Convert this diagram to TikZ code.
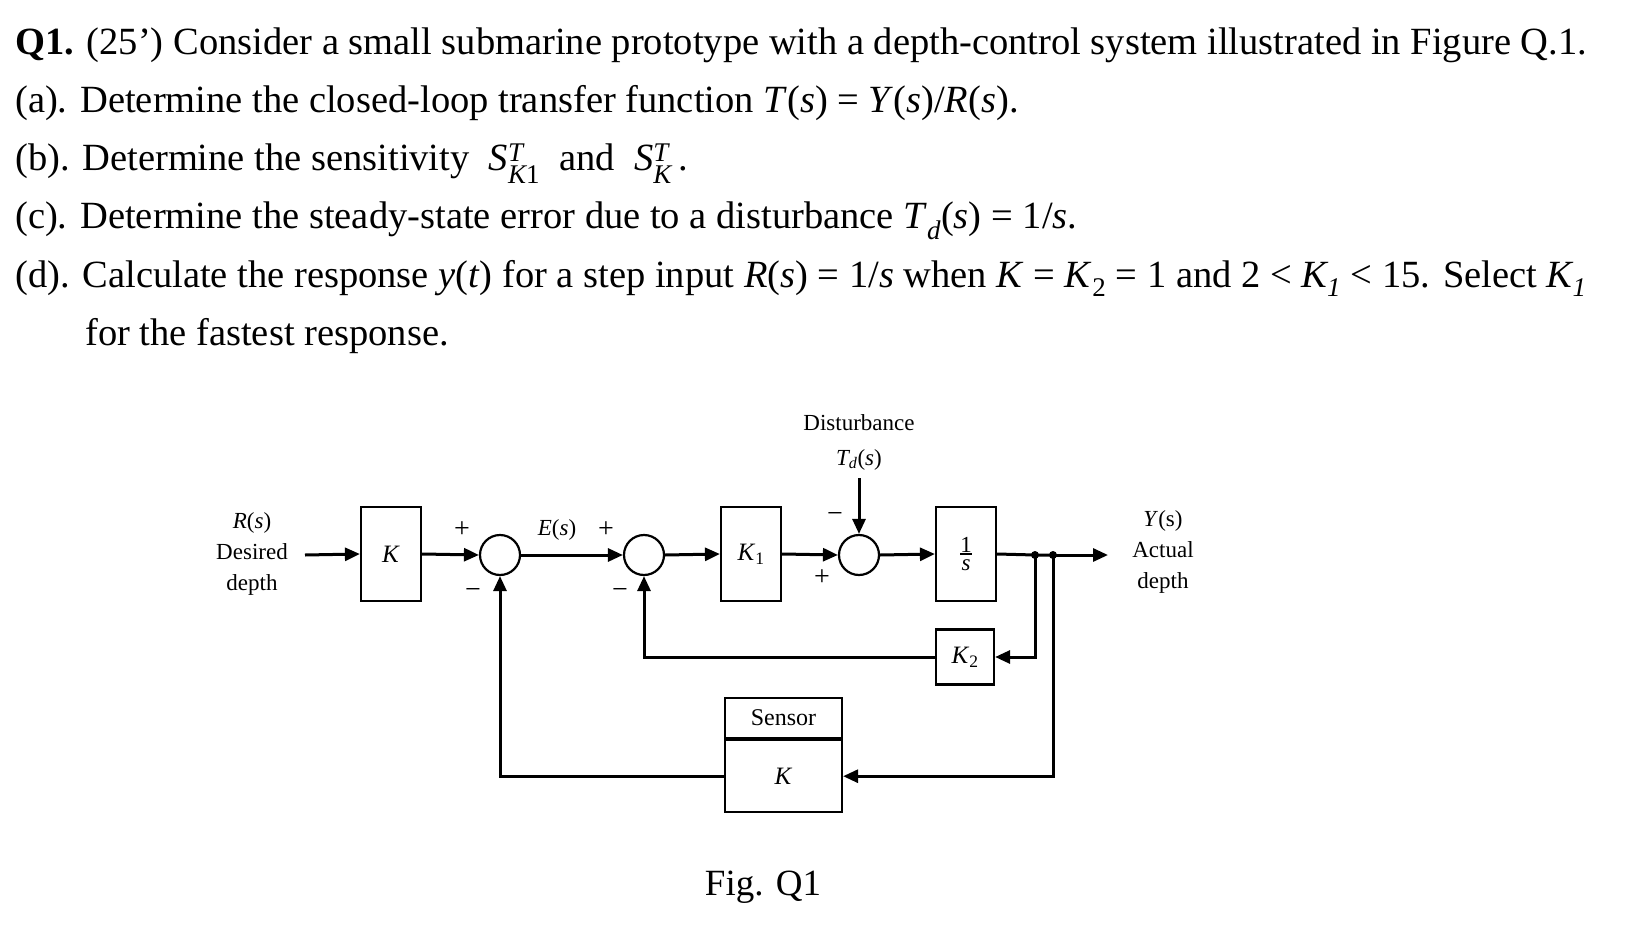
\documentclass[tikz,border=0pt]{standalone}
\usepackage{amsmath}
\usepackage{fontspec}
\setmainfont{Liberation Serif}
\usetikzlibrary{arrows.meta}
\begin{document}
\begin{tikzpicture}[x=1pt,y=-1pt,
  q/.style={anchor=base west,inner sep=0pt,font=\fontsize{38.5}{44}\selectfont},
  lbl/.style={inner sep=0pt,font=\fontsize{23}{27}\selectfont},
  sg/.style={inner sep=0pt,font=\fontsize{28}{30}\selectfont},
  blk/.style={draw,line width=2.2pt,minimum width=60pt,minimum height=94pt,inner sep=0pt,font=\fontsize{25}{28}\selectfont},
  sm/.style={draw,circle,line width=2.2pt,minimum size=40pt,inner sep=0pt},
  sig/.style={line width=3pt,-{Triangle[length=15pt,width=13pt]}},
  ln/.style={line width=3pt},
  dot/.style={circle,fill,inner sep=0pt,minimum size=8pt}]
\useasboundingbox (0,0) rectangle (1648,936);
% question text
\node[q] (l1) at (15,55) {\textbf{Q1.} (25’) Consider a small submarine prototype with a depth-control system illustrated in Figure Q.1.};
\node[q] (l2) at (15,113) {(a). Determine the closed-loop transfer function \textit{T}(\textit{s}) = \textit{Y}(\textit{s})/\textit{R}(\textit{s}).};
\node[q] (l3) at (15,171) {(b). Determine the sensitivity\ \ \textit{S}$^{\textit{T}}_{\textit{K}\text{1}}$\ \ and\ \ \textit{S}$^{\textit{T}}_{\textit{K}}$\,.};
\node[q] (l4) at (15,229) {(c). Determine the steady-state error due to a disturbance \textit{T}$_{\textit{d}}$(\textit{s}) = 1/\textit{s}.};
\node[q] (l5) at (15,287) {(d). Calculate the response \textit{y}(\textit{t}) for a step input \textit{R}(\textit{s}) = 1/\textit{s} when \textit{K} = \textit{K}\textsubscript{2} = 1 and 2 < \textit{K\textsubscript{1}} < 15. Select \textit{K\textsubscript{1}}};
\node[q] (l6) at (85,345) {for the fastest response.};
% diagram
\node[lbl,align=center] (rin) at (252,554) {\textit{R}(\textit{s})\\[4pt]Desired\\[4pt]depth};
\coordinate (rs) at (305,555);
\node[blk] (k) at (391,554) {\textit{K}};
\node[sm] (s1) at (500,555) {};
\node[sm] (s2) at (644,555) {};
\node[blk] (k1) at (751,554) {\textit{K}\textsubscript{1}};
\node[sm] (s3) at (859,555) {};
\node[blk] (is) at (966,554) {};
\node[lbl] (isl) at (is.center) {\shortstack{1\\[-2pt]\rule{12pt}{1.2pt}\\[2pt]\textit{s}}};
\node[dot] (j1) at (1035,555) {};
\node[dot] (j2) at (1053,555) {};
\coordinate (yo) at (1108,555);
\node[lbl,align=center] (yout) at (1163,552) {\textit{Y}(s)\\[4pt]Actual\\[4pt]depth};
\node[lbl,align=center] (dist) at (859,442) {Disturbance\\[8pt]\textit{T\textsubscript{d}}(\textit{s})};
\coordinate (dtop) at (859,478);
\node[draw,line width=2.2pt,minimum width=58pt,minimum height=55pt,inner sep=0pt,font=\fontsize{25}{28}\selectfont] (k2) at (965,657) {\textit{K}\textsubscript{2}};
\node[draw,line width=2.2pt,minimum width=117pt,minimum height=40pt,inner sep=0pt,font=\fontsize{24}{28}\selectfont] (sen) at (783.5,718) {Sensor};
\node[draw,line width=2.2pt,minimum width=117pt,minimum height=72pt,inner sep=0pt,font=\fontsize{25}{28}\selectfont,anchor=north] (sk) at (sen.south) {\textit{K}};
% signs
\node[sg] (p1) at (462,530) {+};
\node[sg] (m1) at (473,593) {\textminus};
\node[lbl] (es) at (557,530) {\textit{E}(\textit{s})};
\node[sg] (p2) at (606,530) {+};
\node[sg] (m2) at (620,593) {\textminus};
\node[sg] (m3) at (835,517) {\textminus};
\node[sg] (p3) at (822,578) {+};
% connectors
\draw[sig] (rs) -- (k.west);
\draw[sig] (k.east) -- (s1.west);
\draw[sig] (s1.east) -- (s2.west);
\draw[sig] (s2.east) -- (k1.west);
\draw[sig] (k1.east) -- (s3.west);
\draw[sig] (dtop) -- (s3.north);
\draw[sig] (s3.east) -- (is.west);
\draw[ln] (is.east) -- (j1.center) -- (j2.center);
\draw[sig] (j2.center) -- (yo);
\draw[sig] (j1.center) |- (k2.east);
\draw[sig] (k2.west) -| (s2.south);
\draw[sig] (j2.center) |- (sk.east);
\draw[sig] (sk.west) -| (s1.south);
\node[inner sep=0pt,font=\fontsize{37}{44}\selectfont] (fig) at (763,887) {Fig. Q1};
\end{tikzpicture}
\end{document}
